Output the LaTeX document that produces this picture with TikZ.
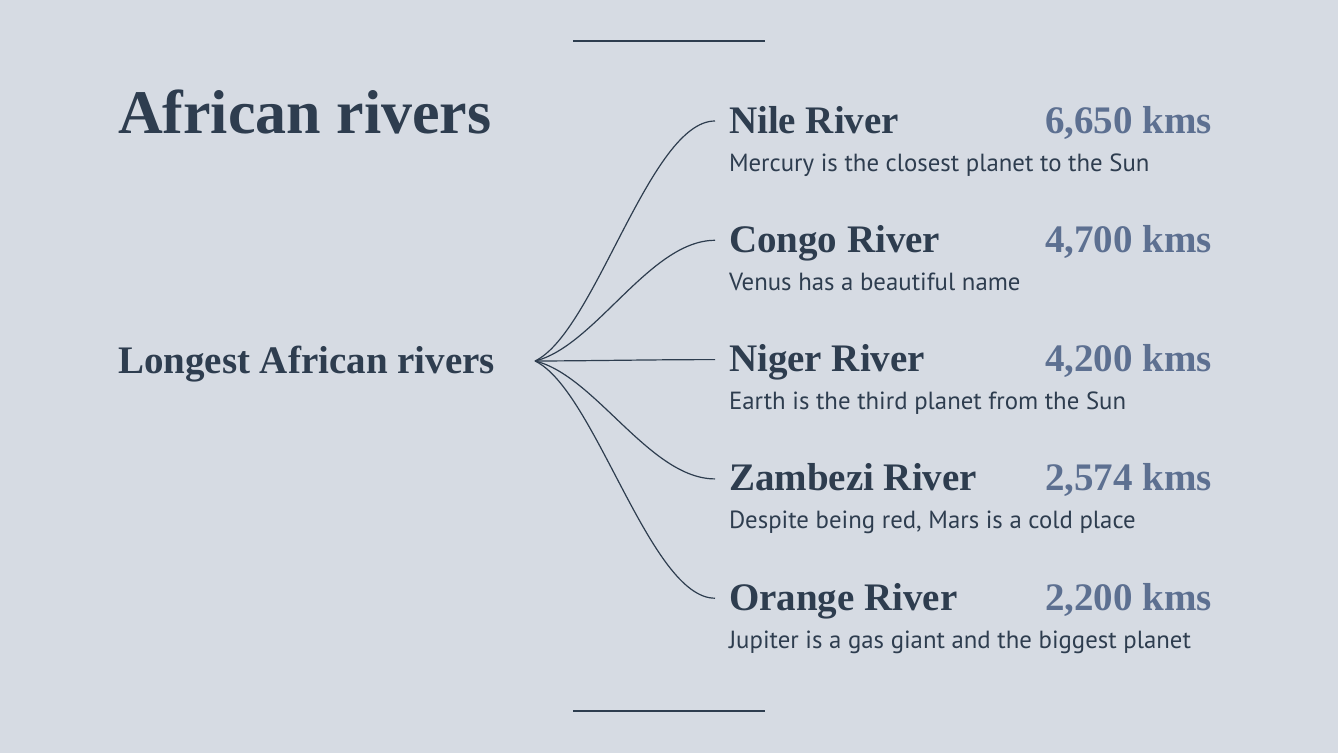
\documentclass[tikz,border=0pt]{standalone}
\usepackage{fontspec}
\setmainfont{Liberation Serif}
\newfontfamily\descfont{PT Sans}
\usetikzlibrary{calc, positioning}
\definecolor{riverink}{HTML}{2E3D4F}
\definecolor{riverslate}{HTML}{5D7091}
\definecolor{riverbg}{HTML}{D6DBE3}

\begin{document}
\begin{tikzpicture}[x=1pt, y=-1pt, every node/.style={inner sep=0pt, outer sep=0pt, text=riverink}]
    \fill[riverbg] (0,0) rectangle (1338,753);
    \useasboundingbox (0,0) rectangle (1338,753);

    % rules top and bottom
    \coordinate (TL) at (573,41);
    \coordinate (TR) at (765,41);
    \coordinate (BL) at (573,711);
    \coordinate (BR) at (765,711);
    \draw[riverink, line width=1.5pt] (TL) -- (TR);
    \draw[riverink, line width=1.5pt] (BL) -- (BR);

    \node[anchor=base west, font=\bfseries\fontsize{62}{70}\selectfont] (title) at (118,133) {African rivers};
    \node[anchor=base west, font=\bfseries\fontsize{39}{46}\selectfont] (topic) at (118,373) {Longest African rivers};
    \coordinate (hub) at (535,361);

    \foreach \n/\name/\kms/\desc in {1/Nile River/{6,650 kms}/Mercury is the closest planet to the Sun,
                                      2/Congo River/{4,700 kms}/Venus has a beautiful name,
                                      3/Niger River/{4,200 kms}/Earth is the third planet from the Sun,
                                      4/Zambezi River/{2,574 kms}/{Despite being red, Mars is a cold place},
                                      5/Orange River/{2,200 kms}/Jupiter is a gas giant and the biggest planet}{
        \pgfmathsetmacro\yb{133+119.3*(\n-1)}
        \pgfmathsetmacro\dy{(\yb-12)-361}
        \node[anchor=base west, font=\bfseries\fontsize{39}{46}\selectfont] (H\n) at (729,\yb) {\name};
        \node[anchor=base west, font=\bfseries\fontsize{39}{46}\selectfont, text=riverslate] (K\n) at (1045,\yb) {\kms};
        \node[anchor=base west, font=\descfont\fontsize{24.8}{30}\selectfont] (D\n) at (729,\yb+38) {\desc};
        \coordinate (E\n) at (715,\yb-12);
        \draw[riverink, line width=1.2pt] (hub) .. controls +(60,0.12*\dy) and +(-65,0) .. (E\n);
    }
\end{tikzpicture}
\end{document}
